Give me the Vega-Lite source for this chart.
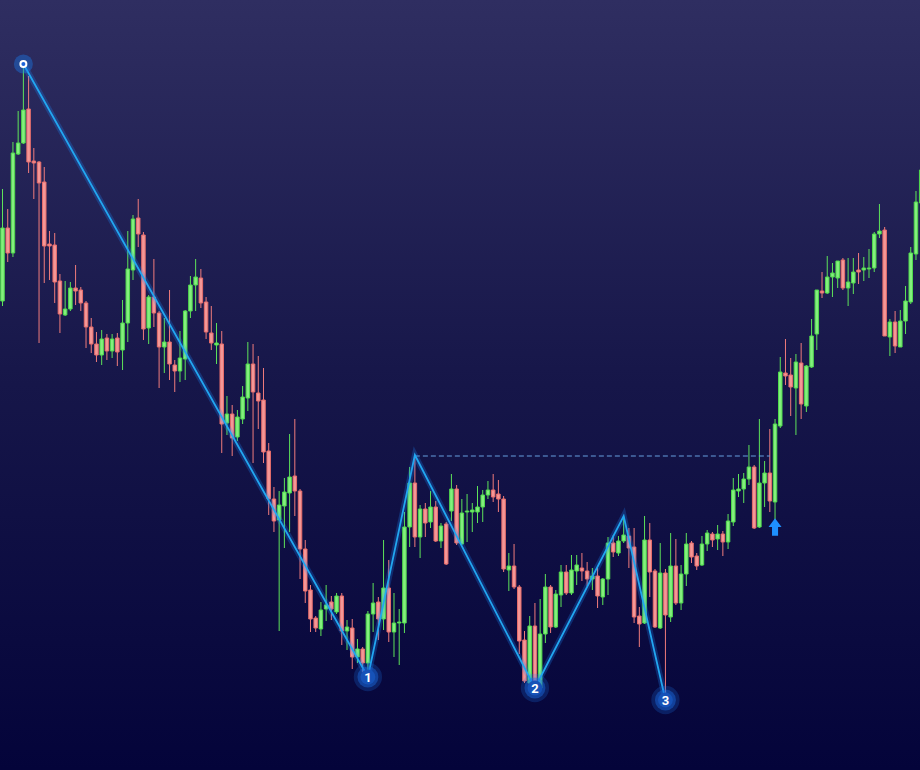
{
  "$schema": "https://vega.github.io/schema/vega-lite/v6.json",
  "width": 920,
  "height": 770,
  "padding": 0,
  "autosize": {"type": "none"},
  "background": "#04043a",
  "config": {"view": {"stroke": null}},
  "datasets": {
    "candles": [
      {"k":0,"o":469,"h":581,"l":464,"c":542},
      {"k":1,"o":542,"h":561,"l":508,"c":517},
      {"k":2,"o":517,"h":628,"l":513,"c":617},
      {"k":3,"o":616,"h":659,"l":615,"c":627},
      {"k":4,"o":627,"h":705,"l":626,"c":660},
      {"k":5,"o":661,"h":694,"l":597,"c":608},
      {"k":6,"o":609,"h":622,"l":571,"c":607},
      {"k":7,"o":608,"h":609,"l":427,"c":587},
      {"k":8,"o":588,"h":603,"l":487,"c":524},
      {"k":9,"o":526,"h":539,"l":490,"c":524},
      {"k":10,"o":525,"h":537,"l":467,"c":488},
      {"k":11,"o":489,"h":496,"l":437,"c":456},
      {"k":12,"o":455,"h":489,"l":454,"c":461},
      {"k":13,"o":461,"h":488,"l":459,"c":482},
      {"k":14,"o":482,"h":505,"l":465,"c":479},
      {"k":15,"o":480,"h":483,"l":459,"c":467},
      {"k":16,"o":467,"h":469,"l":422,"c":443},
      {"k":17,"o":443,"h":452,"l":417,"c":426},
      {"k":18,"o":426,"h":438,"l":408,"c":415},
      {"k":19,"o":415,"h":440,"l":405,"c":431},
      {"k":20,"o":432,"h":436,"l":410,"c":419},
      {"k":21,"o":419,"h":436,"l":412,"c":431},
      {"k":22,"o":432,"h":437,"l":404,"c":418},
      {"k":23,"o":420,"h":470,"l":400,"c":447},
      {"k":24,"o":447,"h":539,"l":428,"c":501},
      {"k":25,"o":500,"h":555,"l":490,"c":551},
      {"k":26,"o":552,"h":571,"l":523,"c":536},
      {"k":27,"o":535,"h":538,"l":430,"c":441},
      {"k":28,"o":442,"h":475,"l":426,"c":473},
      {"k":29,"o":473,"h":511,"l":443,"c":457},
      {"k":30,"o":457,"h":459,"l":382,"c":423},
      {"k":31,"o":423,"h":452,"l":397,"c":428},
      {"k":32,"o":428,"h":480,"l":390,"c":406},
      {"k":33,"o":405,"h":410,"l":378,"c":399},
      {"k":34,"o":399,"h":439,"l":388,"c":412},
      {"k":35,"o":411,"h":460,"l":390,"c":459},
      {"k":36,"o":459,"h":494,"l":452,"c":485},
      {"k":37,"o":485,"h":511,"l":459,"c":493},
      {"k":38,"o":492,"h":501,"l":462,"c":467},
      {"k":39,"o":468,"h":473,"l":431,"c":438},
      {"k":40,"o":437,"h":464,"l":420,"c":427},
      {"k":41,"o":425,"h":447,"l":406,"c":427},
      {"k":42,"o":426,"h":439,"l":317,"c":346},
      {"k":43,"o":347,"h":374,"l":335,"c":356},
      {"k":44,"o":356,"h":365,"l":314,"c":332},
      {"k":45,"o":333,"h":360,"l":329,"c":353},
      {"k":46,"o":351,"h":384,"l":346,"c":373},
      {"k":47,"o":372,"h":428,"l":359,"c":406},
      {"k":48,"o":406,"h":426,"l":307,"c":378},
      {"k":49,"o":377,"h":414,"l":341,"c":369},
      {"k":50,"o":370,"h":402,"l":307,"c":318},
      {"k":51,"o":319,"h":327,"l":255,"c":271},
      {"k":52,"o":271,"h":283,"l":238,"c":249},
      {"k":53,"o":250,"h":279,"l":139,"c":265},
      {"k":54,"o":264,"h":292,"l":222,"c":278},
      {"k":55,"o":277,"h":336,"l":238,"c":293},
      {"k":56,"o":294,"h":351,"l":254,"c":279},
      {"k":57,"o":279,"h":281,"l":191,"c":221},
      {"k":58,"o":221,"h":230,"l":167,"c":179},
      {"k":59,"o":180,"h":185,"l":138,"c":151},
      {"k":60,"o":152,"h":154,"l":138,"c":142},
      {"k":61,"o":141,"h":168,"l":134,"c":160},
      {"k":62,"o":161,"h":185,"l":149,"c":165},
      {"k":63,"o":168,"h":174,"l":150,"c":161},
      {"k":64,"o":158,"h":177,"l":156,"c":174},
      {"k":65,"o":174,"h":177,"l":125,"c":139},
      {"k":66,"o":139,"h":150,"l":120,"c":143},
      {"k":67,"o":142,"h":151,"l":101,"c":113},
      {"k":68,"o":113,"h":131,"l":107,"c":121},
      {"k":69,"o":121,"h":123,"l":98,"c":107},
      {"k":70,"o":107,"h":159,"l":98,"c":156},
      {"k":71,"o":156,"h":187,"l":138,"c":167},
      {"k":72,"o":168,"h":173,"l":130,"c":151},
      {"k":73,"o":151,"h":230,"l":140,"c":182},
      {"k":74,"o":182,"h":210,"l":128,"c":138},
      {"k":75,"o":138,"h":177,"l":113,"c":147},
      {"k":76,"o":147,"h":161,"l":105,"c":148},
      {"k":77,"o":147,"h":258,"l":137,"c":243},
      {"k":78,"o":243,"h":303,"l":223,"c":287},
      {"k":79,"o":287,"h":315,"l":223,"c":233},
      {"k":80,"o":233,"h":265,"l":212,"c":261},
      {"k":81,"o":261,"h":267,"l":233,"c":247},
      {"k":82,"o":248,"h":279,"l":242,"c":263},
      {"k":83,"o":263,"h":269,"l":228,"c":229},
      {"k":84,"o":229,"h":247,"l":222,"c":244},
      {"k":85,"o":246,"h":248,"l":205,"c":206},
      {"k":86,"o":259,"h":296,"l":249,"c":281},
      {"k":87,"o":281,"h":285,"l":225,"c":227},
      {"k":88,"o":226,"h":271,"l":225,"c":257},
      {"k":89,"o":258,"h":276,"l":228,"c":259},
      {"k":90,"o":258,"h":267,"l":238,"c":260},
      {"k":91,"o":258,"h":284,"l":247,"c":263},
      {"k":92,"o":263,"h":280,"l":248,"c":275},
      {"k":93,"o":275,"h":289,"l":271,"c":280},
      {"k":94,"o":280,"h":296,"l":268,"c":273},
      {"k":95,"o":276,"h":290,"l":258,"c":271},
      {"k":96,"o":271,"h":274,"l":198,"c":201},
      {"k":97,"o":200,"h":217,"l":179,"c":204},
      {"k":98,"o":204,"h":226,"l":181,"c":183},
      {"k":99,"o":183,"h":185,"l":116,"c":129},
      {"k":100,"o":130,"h":139,"l":87,"c":89},
      {"k":101,"o":87,"h":154,"l":80,"c":144},
      {"k":102,"o":144,"h":167,"l":80,"c":86},
      {"k":103,"o":82,"h":171,"l":80,"c":136},
      {"k":104,"o":136,"h":196,"l":127,"c":183},
      {"k":105,"o":183,"h":185,"l":137,"c":143},
      {"k":106,"o":143,"h":180,"l":142,"c":176},
      {"k":107,"o":175,"h":205,"l":163,"c":198},
      {"k":108,"o":198,"h":205,"l":175,"c":177},
      {"k":109,"o":177,"h":215,"l":175,"c":200},
      {"k":110,"o":199,"h":215,"l":185,"c":205},
      {"k":111,"o":202,"h":217,"l":189,"c":199},
      {"k":112,"o":199,"h":208,"l":184,"c":191},
      {"k":113,"o":191,"h":202,"l":180,"c":194},
      {"k":114,"o":194,"h":202,"l":162,"c":174},
      {"k":115,"o":173,"h":192,"l":165,"c":191},
      {"k":116,"o":191,"h":233,"l":175,"c":227},
      {"k":117,"o":227,"h":235,"l":213,"c":218},
      {"k":118,"o":217,"h":234,"l":214,"c":229},
      {"k":119,"o":229,"h":254,"l":227,"c":235},
      {"k":120,"o":234,"h":242,"l":202,"c":222},
      {"k":121,"o":223,"h":242,"l":147,"c":153},
      {"k":122,"o":154,"h":163,"l":123,"c":146},
      {"k":123,"o":147,"h":254,"l":146,"c":230},
      {"k":124,"o":230,"h":247,"l":173,"c":198},
      {"k":125,"o":199,"h":201,"l":142,"c":143},
      {"k":126,"o":142,"h":227,"l":141,"c":197},
      {"k":127,"o":197,"h":201,"l":77,"c":155},
      {"k":128,"o":153,"h":237,"l":148,"c":204},
      {"k":129,"o":204,"h":231,"l":165,"c":167},
      {"k":130,"o":167,"h":205,"l":160,"c":196},
      {"k":131,"o":196,"h":237,"l":184,"c":226},
      {"k":132,"o":227,"h":229,"l":207,"c":213},
      {"k":133,"o":214,"h":217,"l":200,"c":204},
      {"k":134,"o":205,"h":234,"l":204,"c":226},
      {"k":135,"o":226,"h":240,"l":219,"c":237},
      {"k":136,"o":236,"h":238,"l":223,"c":230},
      {"k":137,"o":231,"h":245,"l":220,"c":236},
      {"k":138,"o":236,"h":239,"l":214,"c":228},
      {"k":139,"o":228,"h":256,"l":221,"c":249},
      {"k":140,"o":248,"h":292,"l":244,"c":280},
      {"k":141,"o":279,"h":296,"l":273,"c":281},
      {"k":142,"o":281,"h":297,"l":267,"c":291},
      {"k":143,"o":291,"h":325,"l":285,"c":303},
      {"k":144,"o":303,"h":305,"l":241,"c":242},
      {"k":145,"o":243,"h":351,"l":242,"c":287},
      {"k":146,"o":287,"h":309,"l":263,"c":297},
      {"k":147,"o":297,"h":341,"l":258,"c":269},
      {"k":148,"o":268,"h":351,"l":250,"c":346},
      {"k":149,"o":344,"h":413,"l":342,"c":398},
      {"k":150,"o":397,"h":431,"l":385,"c":394},
      {"k":151,"o":395,"h":412,"l":354,"c":383},
      {"k":152,"o":382,"h":416,"l":335,"c":408},
      {"k":153,"o":407,"h":427,"l":351,"c":366},
      {"k":154,"o":364,"h":405,"l":358,"c":404},
      {"k":155,"o":403,"h":451,"l":402,"c":434},
      {"k":156,"o":436,"h":480,"l":420,"c":480},
      {"k":157,"o":479,"h":498,"l":472,"c":477},
      {"k":158,"o":477,"h":514,"l":476,"c":493},
      {"k":159,"o":493,"h":507,"l":473,"c":497},
      {"k":160,"o":492,"h":509,"l":482,"c":509},
      {"k":161,"o":510,"h":512,"l":480,"c":482},
      {"k":162,"o":482,"h":512,"l":464,"c":488},
      {"k":163,"o":487,"h":512,"l":476,"c":498},
      {"k":164,"o":500,"h":517,"l":486,"c":498},
      {"k":165,"o":500,"h":513,"l":489,"c":502},
      {"k":166,"o":501,"h":521,"l":492,"c":502},
      {"k":167,"o":502,"h":538,"l":498,"c":536},
      {"k":168,"o":536,"h":566,"l":532,"c":539},
      {"k":169,"o":540,"h":543,"l":434,"c":434},
      {"k":170,"o":433,"h":451,"l":414,"c":448},
      {"k":171,"o":448,"h":459,"l":417,"c":424},
      {"k":172,"o":423,"h":460,"l":423,"c":449},
      {"k":173,"o":449,"h":484,"l":436,"c":469},
      {"k":174,"o":468,"h":523,"l":466,"c":517},
      {"k":175,"o":516,"h":579,"l":510,"c":568},
      {"k":176,"o":567,"h":610,"l":565,"c":600}
    ],
    "zig": [
      {"k":4,"p":706},
      {"k":70,"p":93},
      {"k":79,"p":315},
      {"k":102,"p":82},
      {"k":119,"p":254},
      {"k":127,"p":70}
    ],
    "labels": [
      {"k":70,"p":93,"lab":"1"},
      {"k":102,"p":82,"lab":"2"},
      {"k":127,"p":70,"lab":"3"}
    ],
    "start": [{"k":4,"p":706}],
    "level": [{"k":79,"k2":147,"p":314}],
    "signal": [{"k":148,"p":243}]
  },
  "layer": [
    {
      "data": {"values": [{}]},
      "mark": {"type": "rect", "fill": {"gradient": "linear", "x1": 0, "y1": 0, "x2": 0, "y2": 1, "stops": [{"offset": 0, "color": "#2f2e61"}, {"offset": 0.5, "color": "#161649"}, {"offset": 1, "color": "#04043a"}]}},
      "encoding": {
        "x": {"datum": -0.48, "type": "quantitative", "scale": {"domain": [-0.48, 175.77], "nice": false, "zero": false, "padding": 0}, "axis": null},
        "x2": {"datum": 175.77},
        "y": {"datum": 0, "type": "quantitative", "scale": {"domain": [0, 770], "nice": false, "zero": false, "padding": 0}, "axis": null},
        "y2": {"datum": 770}
      }
    },
    {
      "data": {"name": "candles"},
      "mark": {"type": "rule", "strokeWidth": 1},
      "encoding": {
        "x": {"field": "k", "type": "quantitative", "axis": null},
        "y": {"field": "l", "type": "quantitative", "axis": null},
        "y2": {"field": "h"},
        "color": {"condition": {"test": "datum.c >= datum.o", "value": "#5ee35a"}, "value": "#f07c7c"}
      }
    },
    {
      "data": {"name": "candles"},
      "mark": {"type": "bar", "orient": "vertical", "width": 3.5, "strokeWidth": 1},
      "encoding": {
        "x": {"field": "k", "type": "quantitative", "axis": null},
        "y": {"field": "o", "type": "quantitative", "axis": null},
        "y2": {"field": "c"},
        "fill": {"condition": {"test": "datum.c >= datum.o", "value": "#84ef7e"}, "value": "#f49797"},
        "stroke": {"condition": {"test": "datum.c >= datum.o", "value": "#4fd94c"}, "value": "#e66d6b"}
      }
    },
    {
      "data": {"name": "level"},
      "mark": {"type": "rule", "color": "#6aa6e8", "strokeWidth": 1, "strokeDash": [5, 3], "opacity": 0.95},
      "encoding": {
        "x": {"field": "k", "type": "quantitative", "axis": null},
        "x2": {"field": "k2"},
        "y": {"field": "p", "type": "quantitative", "axis": null}
      }
    },
    {
      "data": {"name": "zig"},
      "mark": {"type": "line", "color": "#1a8cff", "strokeWidth": 6, "opacity": 0.25},
      "encoding": {
        "x": {"field": "k", "type": "quantitative", "axis": null},
        "y": {"field": "p", "type": "quantitative", "axis": null}
      }
    },
    {
      "data": {"name": "zig"},
      "mark": {"type": "line", "color": "#22a6f0", "strokeWidth": 1.8},
      "encoding": {
        "x": {"field": "k", "type": "quantitative", "axis": null},
        "y": {"field": "p", "type": "quantitative", "axis": null}
      }
    },
    {
      "data": {"name": "labels"},
      "mark": {"type": "point", "shape": "circle", "filled": true, "color": "#1a7cf0", "size": 800, "opacity": 0.22},
      "encoding": {
        "x": {"field": "k", "type": "quantitative", "axis": null},
        "y": {"field": "p", "type": "quantitative", "axis": null}
      }
    },
    {
      "data": {"name": "labels"},
      "mark": {"type": "point", "shape": "circle", "filled": true, "color": "#1a6ae0", "size": 440, "opacity": 0.45},
      "encoding": {
        "x": {"field": "k", "type": "quantitative", "axis": null},
        "y": {"field": "p", "type": "quantitative", "axis": null}
      }
    },
    {
      "data": {"name": "labels"},
      "mark": {"type": "point", "shape": "circle", "filled": true, "color": "#1652b8", "size": 220, "opacity": 1},
      "encoding": {
        "x": {"field": "k", "type": "quantitative", "axis": null},
        "y": {"field": "p", "type": "quantitative", "axis": null}
      }
    },
    {
      "data": {"name": "labels"},
      "mark": {"type": "text", "color": "#ffffff", "font": "Roboto", "fontWeight": "bold", "fontSize": 13, "baseline": "middle", "align": "center", "dy": 0.5},
      "encoding": {
        "x": {"field": "k", "type": "quantitative", "axis": null},
        "y": {"field": "p", "type": "quantitative", "axis": null},
        "text": {"field": "lab"}
      }
    },
    {
      "data": {"name": "start"},
      "mark": {"type": "point", "shape": "circle", "filled": true, "color": "#1a7cf0", "size": 360, "opacity": 0.4},
      "encoding": {
        "x": {"field": "k", "type": "quantitative", "axis": null},
        "y": {"field": "p", "type": "quantitative", "axis": null}
      }
    },
    {
      "data": {"name": "start"},
      "mark": {"type": "point", "shape": "circle", "filled": true, "fill": "#1d64d8", "stroke": "#ffffff", "strokeWidth": 2, "size": 36, "opacity": 1},
      "encoding": {
        "x": {"field": "k", "type": "quantitative", "axis": null},
        "y": {"field": "p", "type": "quantitative", "axis": null}
      }
    },
    {
      "data": {"name": "signal"},
      "mark": {"type": "point", "shape": "M0,-1 L0.75,0 L0.35,0 L0.35,1 L-0.35,1 L-0.35,0 L-0.75,0 Z", "filled": true, "color": "#1e90ff", "size": 300, "opacity": 1},
      "encoding": {
        "x": {"field": "k", "type": "quantitative", "axis": null},
        "y": {"field": "p", "type": "quantitative", "axis": null}
      }
    }
  ]
}
